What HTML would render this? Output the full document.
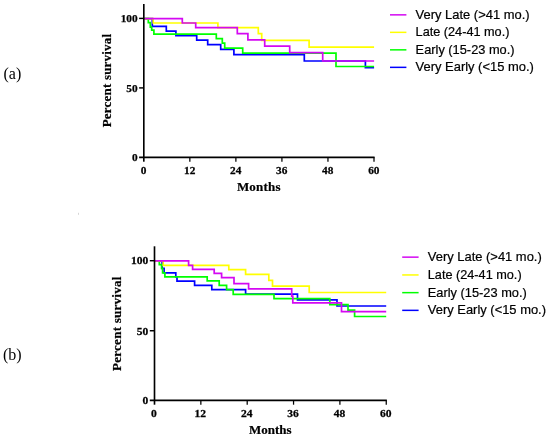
<!DOCTYPE html>
<html><head><meta charset="utf-8"><title>Survival curves</title>
<style>
html,body{margin:0;padding:0;background:#fff;}
svg{display:block;}
.tk text{font-family:"Liberation Serif",serif;font-weight:bold;fill:#000;stroke:#000;stroke-width:0.25px;}
.ax{font-family:"Liberation Serif",serif;font-weight:bold;font-size:13px;letter-spacing:0.2px;fill:#000;stroke:#000;stroke-width:0.2px;}
.lg{font-family:"Liberation Sans",sans-serif;fill:#000;stroke:#000;stroke-width:0.2px;}
.pl{font-family:"Liberation Serif",serif;font-size:16px;fill:#000;}
.cv path{fill:none;stroke-width:1.7;stroke-linejoin:miter;}
</style></head><body>
<svg width="550" height="439" viewBox="0 0 550 439">
<rect width="550" height="439" fill="#fff"/>
<g class="cv" transform="translate(0.3,0.2)">
<path d="M144,18.4 H152 V26.2 H166 V31 H175.6 V35.4 H196.4 V40 H207.4 V44.4 H220.4 V49.2 H233.6 V54.4 H304 V60.8 H365.1 V67.5 H373.8" stroke="#0000ff"/>
<path d="M144,18.4 H148 V22.4 H150 V27 H151.4 V30 H153.6 V34 H216 V38.4 H222 V43 H224.4 V48 H242.4 V53 H335.7 V66.3 H373.8" stroke="#00ff00"/>
<path d="M144,18.4 H152.9 V22.8 H217.6 V27.4 H258 V33.4 H261.4 V40.2 H308.8 V47 H373.8" stroke="#ffff00"/>
<path d="M144,18.4 H182 V22.8 H195.4 V27.4 H237 V33.4 H247.6 V39.6 H264.4 V46 H289.4 V52.5 H322.4 V60.8 H373.8" stroke="#d408f2"/>
</g>
<g stroke="#000" fill="none">
<path d="M143.8,4 V161.7" stroke-width="1.65"/>
<path d="M139.1,157.3 H374.6" stroke-width="1.7"/>
<path d="M139.1,18.4 H143.8" stroke-width="1.45"/>
<path d="M139.1,87.9 H143.8" stroke-width="1.45"/>
<path d="M189.84,157.3 V161.7" stroke-width="1.25"/>
<path d="M235.88,157.3 V161.7" stroke-width="1.25"/>
<path d="M281.92,157.3 V161.7" stroke-width="1.25"/>
<path d="M327.96,157.3 V161.7" stroke-width="1.25"/>
<path d="M374,157.3 V161.7" stroke-width="1.25"/>
</g>
<g class="tk" font-size="10.9">
<text font-size="11.3" transform="translate(137.6,22.15) scale(1.0,1)" text-anchor="end">100</text>
<text font-size="11.3" transform="translate(137.6,91.65) scale(1.0,1)" text-anchor="end">50</text>
<text font-size="11.3" transform="translate(137.6,161.05) scale(1.0,1)" text-anchor="end">0</text>
<text transform="translate(143.6,173.55) scale(1.04,1)" text-anchor="middle">0</text>
<text transform="translate(189.64,173.55) scale(1.04,1)" text-anchor="middle">12</text>
<text transform="translate(235.68,173.55) scale(1.04,1)" text-anchor="middle">24</text>
<text transform="translate(281.72,173.55) scale(1.04,1)" text-anchor="middle">36</text>
<text transform="translate(327.76,173.55) scale(1.04,1)" text-anchor="middle">48</text>
<text transform="translate(373.8,173.55) scale(1.04,1)" text-anchor="middle">60</text>
</g>
<text class="ax" x="258.8" y="191.2" text-anchor="middle">Months</text>
<text class="ax" transform="translate(111.3,80.5) rotate(-90)" text-anchor="middle">Percent survival</text>
<path d="M390,14.85 H406.4" stroke="#d408f2" stroke-width="1.5"/>
<text class="lg" font-size="12.1" transform="translate(415.6,18.7) scale(1.07,1)">Very Late (&gt;41 mo.)</text>
<path d="M390,32.35 H406.4" stroke="#ffff00" stroke-width="1.5"/>
<text class="lg" font-size="12.1" transform="translate(415.6,36.2) scale(1.05,1)">Late (24-41 mo.)</text>
<path d="M390,49.85 H406.4" stroke="#00ff00" stroke-width="1.5"/>
<text class="lg" font-size="12.1" transform="translate(415.6,53.7) scale(1.06,1)">Early (15-23 mo.)</text>
<path d="M390,67.35 H406.4" stroke="#0000ff" stroke-width="1.5"/>
<text class="lg" font-size="12.1" transform="translate(415.6,71.2) scale(1.07,1)">Very Early (&lt;15 mo.)</text>
<text class="pl" x="3.5" y="78.5">(a)</text>
<rect x="78.3" y="212.8" width="0.7" height="2" fill="#c4c4c4"/>
<g class="cv" transform="translate(0.2,0.3)">
<path d="M154.4,260.6 H161.9 V268.1 H163.9 V272.5 H175.6 V276.6 H176.8 V280.8 H194.4 V285 H211.6 V289.4 H245.4 V293.8 H297.3 V299.6 H336.8 V305.7 H386" stroke="#0000ff"/>
<path d="M154.4,260.6 H159.1 V264.4 H161.4 V268.2 H162.4 V272.5 H164.7 V276.6 H207 V280.6 H219 V285 H226.4 V289.4 H233 V294 H273.8 V298.3 H329.6 V304.4 H347.8 V309.9 H354.4 V316.2 H386" stroke="#00ff00"/>
<path d="M154.4,260.6 H163 V265 H228.6 V269.4 H245.4 V274 H268.6 V280 H272.3 V285.8 H309 V292.2 H386" stroke="#ffff00"/>
<path d="M154.4,260.6 H188.4 V265 H192.4 V269 H214 V273 H221.4 V277.4 H233.8 V283.4 H248.4 V288.5 H291.5 V295.8 H292.6 V302.6 H341.3 V311.4 H386" stroke="#d408f2"/>
</g>
<g stroke="#000" fill="none">
<path d="M154.5,246.3 V404.7" stroke-width="1.65"/>
<path d="M149.8,400.3 H386.85" stroke-width="1.7"/>
<path d="M149.8,260.7 H154.5" stroke-width="1.45"/>
<path d="M149.8,330.75 H154.5" stroke-width="1.45"/>
<path d="M200.85,400.3 V404.7" stroke-width="1.25"/>
<path d="M247.2,400.3 V404.7" stroke-width="1.25"/>
<path d="M293.55,400.3 V404.7" stroke-width="1.25"/>
<path d="M339.9,400.3 V404.7" stroke-width="1.25"/>
<path d="M386.25,400.3 V404.7" stroke-width="1.25"/>
</g>
<g class="tk" font-size="10.7">
<text font-size="11.2" transform="translate(148.3,264.45) scale(1.03,1)" text-anchor="end">100</text>
<text font-size="11.2" transform="translate(148.3,334.5) scale(1.03,1)" text-anchor="end">50</text>
<text font-size="11.2" transform="translate(148.3,404.05) scale(1.03,1)" text-anchor="end">0</text>
<text transform="translate(154,416.55) scale(1.08,1)" text-anchor="middle">0</text>
<text transform="translate(200.35,416.55) scale(1.08,1)" text-anchor="middle">12</text>
<text transform="translate(246.7,416.55) scale(1.08,1)" text-anchor="middle">24</text>
<text transform="translate(293.05,416.55) scale(1.08,1)" text-anchor="middle">36</text>
<text transform="translate(339.4,416.55) scale(1.08,1)" text-anchor="middle">48</text>
<text transform="translate(385.75,416.55) scale(1.08,1)" text-anchor="middle">60</text>
</g>
<text class="ax" style="letter-spacing:0" x="270.3" y="434" text-anchor="middle">Months</text>
<text class="ax" style="font-size:13.1px;letter-spacing:0.22px" transform="translate(121.3,323.7) rotate(-90)" text-anchor="middle">Percent survival</text>
<path d="M402.2,257.15 H418.6" stroke="#d408f2" stroke-width="1.5"/>
<text class="lg" font-size="12.1" transform="translate(427.8,261) scale(1.07,1)">Very Late (&gt;41 mo.)</text>
<path d="M402.2,274.95 H418.6" stroke="#ffff00" stroke-width="1.5"/>
<text class="lg" font-size="12.1" transform="translate(427.8,278.8) scale(1.05,1)">Late (24-41 mo.)</text>
<path d="M402.2,292.65 H418.6" stroke="#00ff00" stroke-width="1.5"/>
<text class="lg" font-size="12.1" transform="translate(427.8,296.5) scale(1.06,1)">Early (15-23 mo.)</text>
<path d="M402.2,310.35 H418.6" stroke="#0000ff" stroke-width="1.5"/>
<text class="lg" font-size="12.1" transform="translate(427.8,314.2) scale(1.07,1)">Very Early (&lt;15 mo.)</text>
<text class="pl" x="3" y="359.8">(b)</text>
</svg>
</body></html>
